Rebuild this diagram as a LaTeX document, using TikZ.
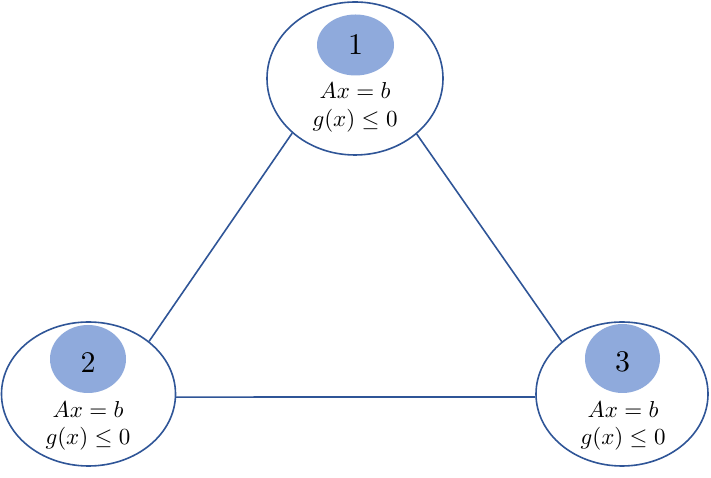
\documentclass[tikz,border=0pt]{standalone}
\usetikzlibrary{shapes.geometric}
\definecolor{edgeblue}{HTML}{2F5597}
\definecolor{fillblue}{HTML}{8FAADC}
\begin{document}
\begin{tikzpicture}[x=1pt,y=1pt,
  outer/.style={draw=edgeblue,line width=1.6pt,ellipse,inner sep=0pt,fill=white},
  inner/.style={fill=fillblue,ellipse,inner sep=0pt,draw=none},
  numtxt/.style={scale=3.0,inner sep=0pt},
  eqtxt/.style={scale=2.3,inner sep=0pt},
  link/.style={draw=edgeblue,line width=1.6pt}]
\useasboundingbox (0,0) rectangle (711,478);
% node 1 (y up: 478 - y)
\node[outer,minimum width=176pt,minimum height=153pt] (n1) at (355,399.5) {};
\node[inner,minimum width=77pt,minimum height=61pt] (c1) at (355.5,433) {};
\node[numtxt] (t1) at (355.5,433) {1};
\node[eqtxt] (e1a) at (355,387) {$Ax=b$};
\node[eqtxt] (e1b) at (355,357) {$g(x)\leq 0$};
% node 2
\node[outer,minimum width=174pt,minimum height=144pt] (n2) at (88.5,84) {};
\node[inner,minimum width=76pt,minimum height=68pt] (c2) at (88,119) {};
\node[numtxt] (t2) at (88,115) {2};
\node[eqtxt] (e2a) at (88,68) {$Ax=b$};
\node[eqtxt] (e2b) at (88,39) {$g(x)\leq 0$};
% node 3
\node[outer,minimum width=172pt,minimum height=144pt] (n3) at (622,84) {};
\node[inner,minimum width=75pt,minimum height=69pt] (c3) at (622.5,119.5) {};
\node[numtxt] (t3) at (622.5,116) {3};
\node[eqtxt] (e3a) at (623,68) {$Ax=b$};
\node[eqtxt] (e3b) at (623,39) {$g(x)\leq 0$};
% connectors
\draw[link] (n1.221.3) -- (n2.41.2);
\draw[link] (n1.318.7) -- (n3.139);
\draw[link] (n2.-2) -- (n3.182);
\end{tikzpicture}
\end{document}
